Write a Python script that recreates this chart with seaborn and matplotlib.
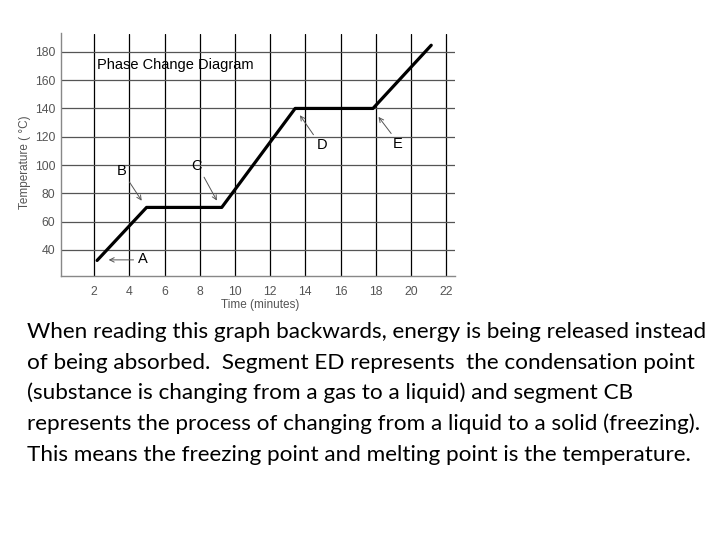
import matplotlib
matplotlib.use("Agg")
import numpy as np
import pandas as pd
import seaborn as sns
import matplotlib.pyplot as plt

sns.set_style("white")

# heating curve
time_min = [2.17, 4.98, 9.25, 13.42, 17.84, 21.15]
temp_c = [32.5, 70, 70, 140, 140, 184.7]

x_ticks = [2, 4, 6, 8, 10, 12, 14, 16, 18, 20, 22]
y_ticks = [40, 60, 80, 100, 120, 140, 160, 180]

# point labels: letter, text pos, arrow tail, arrow head
labels = ["A", "B", "C", "D", "E"]
label_xy = [(4.79, 33.4), (3.59, 95.9), (7.82, 99.0), (14.93, 114.4), (19.26, 114.9)]
tail_xy = [(4.40, 32.9), (3.92, 89.6), (8.17, 93.1), (14.55, 119.8), (18.97, 120.7)]
head_xy = [(2.67, 32.9), (4.79, 73.1), (9.05, 73.1), (13.60, 136.8), (18.06, 135.6)]

paragraph = [
    "When reading this graph backwards, energy is being released instead",
    "of being absorbed.  Segment ED represents  the condensation point",
    "(substance is changing from a gas to a liquid) and segment CB",
    "represents the process of changing from a liquid to a solid (freezing).",
    "This means the freezing point and melting point is the temperature.",
]

fig = plt.figure(figsize=(7.2, 5.4), dpi=100)
ax = fig.add_axes([61 / 720, 1 - 276 / 540, (455 - 61) / 720, (276 - 33.5) / 540])

df = pd.DataFrame({"time": time_min, "temp": temp_c})
sns.lineplot(data=df, x="time", y="temp", ax=ax, color="black", lw=2.3, sort=False)

ax.set_xlim(0.12, 22.5)
ax.set_ylim(21.5, 193)
ax.set_xticks(x_ticks)
ax.set_yticks(y_ticks)
ax.set_axisbelow(True)
ax.grid(axis="x", color="black", lw=0.9)
ax.grid(axis="y", color="#555555", lw=0.9)
for s in ["top", "right"]:
    ax.spines[s].set_visible(False)
for s in ["left", "bottom"]:
    ax.spines[s].set_color("#888888")
    ax.spines[s].set_linewidth(1.0)
ax.tick_params(axis="x", direction="out", length=3, width=0.9, color="black",
               labelsize=8.8, labelcolor="#555555", pad=4)
ax.tick_params(axis="y", length=0, labelsize=8.8, labelcolor="#555555", pad=4)
for t in ax.get_xticklabels() + ax.get_yticklabels():
    t.set_family("Liberation Sans")
ax.set_xlabel("")
ax.set_ylabel("")

ax.text(2.15, 170.5, "Phase Change Diagram", fontsize=10.5, family="Liberation Sans",
        color="black", va="center", ha="left")

for lab, pos, tail, head in zip(labels, label_xy, tail_xy, head_xy):
    ax.text(pos[0], pos[1], lab, fontsize=10.5, family="Liberation Sans",
            ha="center", va="center", color="black")
    ax.annotate("", xy=head, xytext=tail,
                arrowprops=dict(arrowstyle="->", color="#555555", lw=0.7,
                                mutation_scale=8))

fig.text(25 / 720, 1 - 162 / 540, "Temperature ( °C)", rotation=90, fontsize=8.5,
         family="Liberation Sans", color="#555555", ha="center", va="center")
fig.text(260 / 720, 1 - 305 / 540, "Time (minutes)", fontsize=8.5,
         family="Liberation Sans", color="#555555", ha="center", va="center")

line_y = [332, 363, 393, 424, 455]
for txt, yy in zip(paragraph, line_y):
    fig.text(27 / 720, 1 - yy / 540, txt, fontsize=16.2, family="Lato",
             color="black", ha="left", va="center")

fig.savefig("out.png", dpi=100)
